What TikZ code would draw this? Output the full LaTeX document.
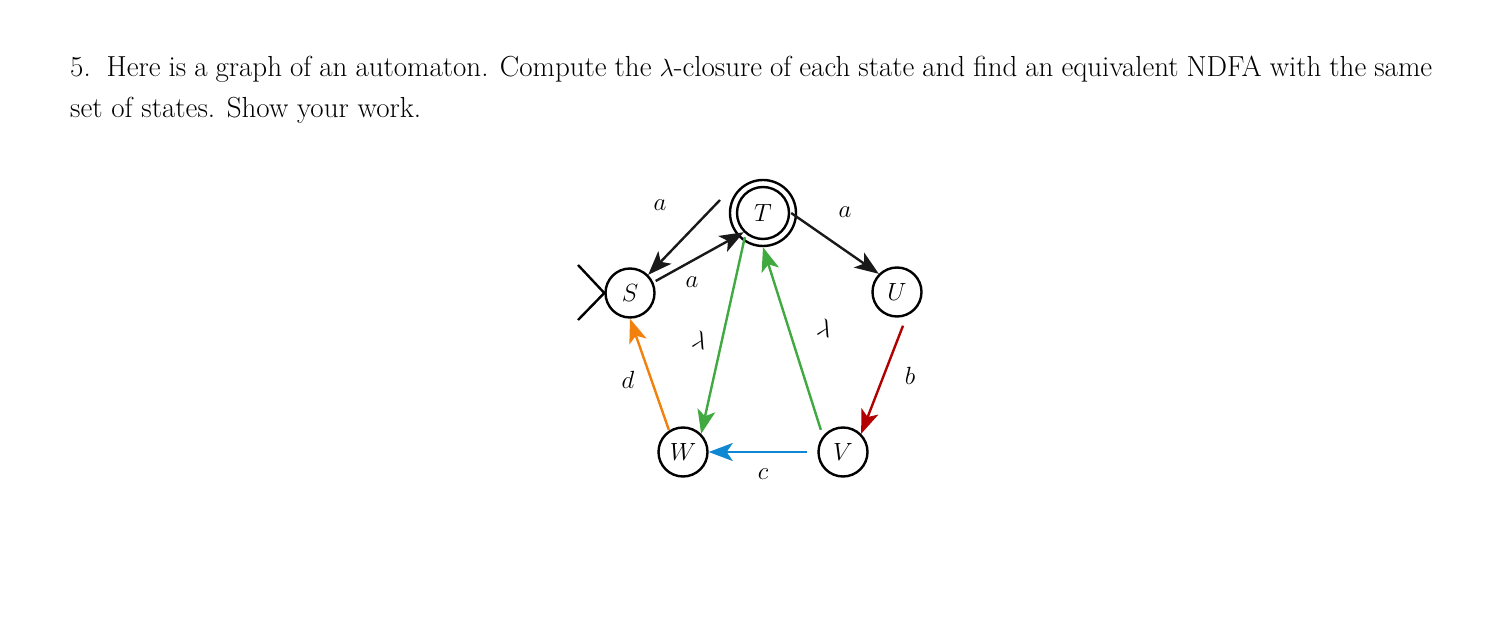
\documentclass[tikz,border=0pt]{standalone}
\usetikzlibrary{arrows.meta}
\begin{document}
\begin{tikzpicture}[x=1pt,y=-1pt,
  st/.style={circle,draw,line width=2.4pt,minimum size=49pt,inner sep=0pt,font=\fontsize{34}{34}\selectfont},
  ed/.style={line width=2.4pt,-{Stealth[length=24pt,width=18pt,inset=6pt]}},
  lb/.style={font=\fontsize{36}{36}\selectfont}]
\useasboundingbox (0,0) rectangle (1492,620);
\node[anchor=north west,text width=1362pt,align=justify,inner sep=0pt,font=\fontsize{29}{41}\selectfont] (txt) at (70,56)
 {5.\ \ Here is a graph of an automaton. Compute the $\lambda$-closure of each state and find an equivalent NDFA with the same set of states. Show your work.};
\node[st] (S) at (630,293) {$S$};
\node[st,minimum size=52pt] (T) at (763,213) {$T$};
\node[circle,draw,line width=2.4pt,minimum size=66pt] (To) at (763,213) {};
\node[st] (U) at (897,292) {$U$};
\node[st] (W) at (683,452) {$W$};
\node[st] (V) at (843,452) {$V$};
\coordinate (s1) at (578,265); \coordinate (s2) at (578,320);
\draw[line width=2.4pt] (s1) -- (S.west) -- (s2);
\coordinate (ta) at (720,200);
\draw[ed,black!90] (ta) -- (S.north east);
\draw[ed,black!90] (S.east) ++(0,-12) -- (T.south west);
\draw[ed,black!90] (To.east) ++(-6,0) -- (U.north west);
\draw[ed,red!70!black] (U.south) ++(6,8) -- (V.north east);
\draw[ed,cyan!70!blue] (V.west) ++(-10,0) -- (W.east);
\draw[ed,orange!80!brown] (W.north west) ++(4,-4) -- (S.south);
\draw[ed,green!55!black!75] (To.south west) ++(6,0) -- (W.north east);
\draw[ed,green!55!black!75] (V.north west) ++(-4,-4) -- (To.south);
\node[lb] (la1) at (660,205) {$a$};
\node[lb] (la2) at (845,212) {$a$};
\node[lb] (la3) at (692,282) {$a$};
\node[lb,rotate=-15] (ll1) at (700,340) {$\lambda$};
\node[lb,rotate=-15] (ll2) at (825,328) {$\lambda$};
\node[lb] (ld) at (628,380) {$d$};
\node[lb] (lbb) at (910,376) {$b$};
\node[lb] (lc) at (763,474) {$c$};
\end{tikzpicture}
\end{document}
